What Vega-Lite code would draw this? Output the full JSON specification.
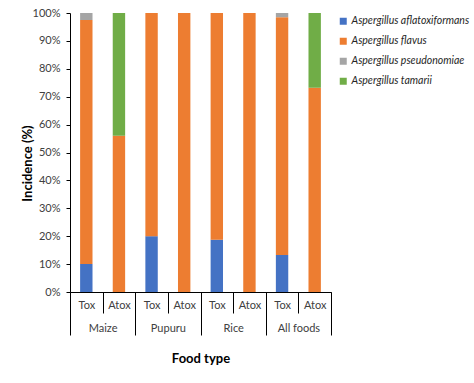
{
  "$schema": "https://vega.github.io/schema/vega-lite/v6.json",
  "autosize": {"type": "none"},
  "width": 261,
  "height": 279,
  "padding": {"left": 70, "top": 13, "right": 143, "bottom": 91},
  "background": "white",
  "config": {
    "view": {"stroke": null},
    "font": "Lato",
    "axis": {"labelFont": "Lato", "titleFont": "Lato", "labelColor": "#404040", "domainColor": "#000000", "tickColor": "#000000", "grid": false}
  },
  "data": {
    "values": [
      {"food": "Maize", "type": "Tox", "key": "Maize|Tox", "species": "Aspergillus aflatoxiformans", "pct": 10},
      {"food": "Maize", "type": "Tox", "key": "Maize|Tox", "species": "Aspergillus flavus", "pct": 87.5},
      {"food": "Maize", "type": "Tox", "key": "Maize|Tox", "species": "Aspergillus pseudonomiae", "pct": 2.5},
      {"food": "Maize", "type": "Atox", "key": "Maize|Atox", "species": "Aspergillus flavus", "pct": 56},
      {"food": "Maize", "type": "Atox", "key": "Maize|Atox", "species": "Aspergillus tamarii", "pct": 44},
      {"food": "Pupuru", "type": "Tox", "key": "Pupuru|Tox", "species": "Aspergillus aflatoxiformans", "pct": 20},
      {"food": "Pupuru", "type": "Tox", "key": "Pupuru|Tox", "species": "Aspergillus flavus", "pct": 80},
      {"food": "Pupuru", "type": "Atox", "key": "Pupuru|Atox", "species": "Aspergillus flavus", "pct": 100},
      {"food": "Rice", "type": "Tox", "key": "Rice|Tox", "species": "Aspergillus aflatoxiformans", "pct": 18.75},
      {"food": "Rice", "type": "Tox", "key": "Rice|Tox", "species": "Aspergillus flavus", "pct": 81.25},
      {"food": "Rice", "type": "Atox", "key": "Rice|Atox", "species": "Aspergillus flavus", "pct": 100},
      {"food": "All foods", "type": "Tox", "key": "All foods|Tox", "species": "Aspergillus aflatoxiformans", "pct": 13.3},
      {"food": "All foods", "type": "Tox", "key": "All foods|Tox", "species": "Aspergillus flavus", "pct": 85.2},
      {"food": "All foods", "type": "Tox", "key": "All foods|Tox", "species": "Aspergillus pseudonomiae", "pct": 1.5},
      {"food": "All foods", "type": "Atox", "key": "All foods|Atox", "species": "Aspergillus flavus", "pct": 73.2},
      {"food": "All foods", "type": "Atox", "key": "All foods|Atox", "species": "Aspergillus tamarii", "pct": 26.8}
    ]
  },
  "layer": [
    {
      "mark": {"type": "bar", "width": {"band": 0.38}},
      "encoding": {
        "x": {
          "field": "key", "type": "nominal",
          "sort": ["Maize|Tox", "Maize|Atox", "Pupuru|Tox", "Pupuru|Atox", "Rice|Tox", "Rice|Atox", "All foods|Tox", "All foods|Atox"],
          "scale": {"paddingInner": 0, "paddingOuter": 0},
          "axis": {
            "orient": "bottom", "title": null, "labelAngle": 0,
            "labelExpr": "split(datum.value, '|')[1]",
            "tickBand": "extent", "tickSize": 21, "labelPadding": -14,
            "labelFontSize": 11, "domainWidth": 1
          }
        },
        "y": {
          "field": "pct", "type": "quantitative", "stack": "zero",
          "scale": {"domain": [0, 100], "nice": false},
          "axis": {
            "title": "Incidence (%)", "titleFontSize": 13, "titleFontWeight": "bold", "titleColor": "#000000",
            "titleX": -43, "titleY": 150, "titleBaseline": "middle",
            "values": [0, 10, 20, 30, 40, 50, 60, 70, 80, 90, 100],
            "labelExpr": "datum.value + '%'", "labelFontSize": 11,
            "tickSize": 4, "labelPadding": 6
          }
        },
        "color": {
          "field": "species", "type": "nominal",
          "scale": {
            "domain": ["Aspergillus aflatoxiformans", "Aspergillus flavus", "Aspergillus pseudonomiae", "Aspergillus tamarii"],
            "range": ["#4472C4", "#ED7D31", "#A5A5A5", "#70AD47"]
          },
          "legend": {
            "title": null, "orient": "none", "legendX": 268, "legendY": 3,
            "symbolType": "square", "symbolSize": 49, "symbolStrokeWidth": 0,
            "labelFont": "Lato", "labelFontStyle": "italic", "labelFontSize": 10.5, "labelColor": "#262626",
            "rowPadding": 9, "labelOffset": 3
          }
        },
        "order": {"field": "species", "sort": "ascending"}
      }
    },
    {
      "mark": {"type": "point", "opacity": 0},
      "encoding": {
        "x": {
          "field": "food", "type": "nominal",
          "sort": ["Maize", "Pupuru", "Rice", "All foods"],
          "scale": {"paddingInner": 0, "paddingOuter": 0},
          "axis": {
            "orient": "bottom", "title": "Food type", "titleFontSize": 13, "titleFontWeight": "bold", "titleColor": "#000000",
            "titlePadding": 17, "labelAngle": 0, "domain": false,
            "tickBand": "extent", "tickSize": 43, "labelPadding": -13,
            "labelFontSize": 11
          }
        }
      }
    }
  ],
  "resolve": {"scale": {"x": "independent"}, "axis": {"x": "independent"}}
}
